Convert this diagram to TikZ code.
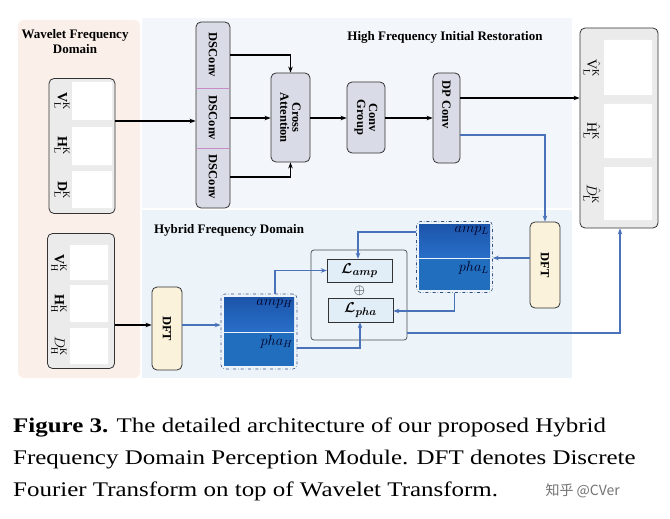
\documentclass[tikz,border=0pt]{standalone}
\usepackage{amsmath,bm}
\usepackage{fontspec}
\setmainfont{Liberation Serif}
\newfontfamily\capf{Liberation Serif}[FakeStretch=1.2]
\newfontfamily\cjk{Noto Sans CJK SC}
\usetikzlibrary{arrows.meta}
\definecolor{blu}{HTML}{4A72B8}
\definecolor{boxg}{HTML}{D9DCE6}
\definecolor{cream}{HTML}{FBF2DC}
\definecolor{peach}{HTML}{FBEFEA}
\definecolor{hfbg}{HTML}{F3F6FA}
\definecolor{hybg}{HTML}{ECF4FA}
\definecolor{sdark}{HTML}{1C55AA}
\definecolor{slight}{HTML}{286EC8}
\definecolor{sph}{HTML}{226EBE}
\definecolor{lossf}{HTML}{E2EEF7}
\begin{document}
\begin{tikzpicture}[x=1pt,y=-1pt,
 blk/.style={draw=black!80,line width=0.8pt,rounded corners=5pt,fill=boxg},
 ar/.style={-{Stealth[length=6pt]},line width=1.1pt,black},
 ba/.style={-{Stealth[length=6pt]},line width=1.1pt,blu},
 lab/.style={font=\bfseries\fontsize{12.5}{12}\selectfont,rotate=-90,align=center},
 wl/.style={rotate=-90,font=\bfseries\fontsize{14}{14}\selectfont},
 ttl/.style={font=\bfseries\fontsize{13}{15}\selectfont,align=center},
 spl/.style={anchor=north east,text=blue!15!black,inner sep=2pt},
 spec/.style={draw=blu!70!black,dash dot,line width=0.6pt,rounded corners=4pt}]
\useasboundingbox (0,0) rectangle (670,519);
\fill[white] (0,0) rectangle (670,519);
% panels
\fill[peach,rounded corners=6pt] (18,20) rectangle (140,378);
\fill[hfbg] (142,18) rectangle (572,208);
\fill[hybg] (142,210) rectangle (572,378);
\node[ttl] (wfd) at (75,42) {Wavelet Frequency\\Domain};
\node[ttl] (hfir) at (445,37) {High Frequency Initial Restoration};
\node[ttl] (hfd) at (229,230) {Hybrid Frequency Domain};
% left boxes
\node[blk,fill=black!8,minimum width=66pt,minimum height=135pt] (L1) at (82,146) {};
\fill[white] (72,82) rectangle (112,120) (72,127) rectangle (112,165) (72,171) rectangle (112,208);
\node[wl] (v1) at (62,101) {V$_\mathrm{L}^\mathrm{K}$};
\node[wl] (h1) at (62,146) {H$_\mathrm{L}^\mathrm{K}$};
\node[wl] (d1) at (62,190) {D$_\mathrm{L}^\mathrm{K}$};
\node[blk,fill=black!8,minimum width=67pt,minimum height=135pt] (L2) at (81,301) {};
\fill[white] (70,245) rectangle (108,280) (70,285) rectangle (108,322) (70,328) rectangle (108,364);
\node[wl] (v2) at (59,263) {V$_\mathrm{H}^\mathrm{K}$};
\node[wl] (h2) at (59,304) {H$_\mathrm{H}^\mathrm{K}$};
\node[wl] (d2) at (59,346) {$D_\mathrm{H}^\mathrm{K}$};
% right box
\node[blk,fill=black!8,minimum width=78pt,minimum height=200pt] (R) at (619,128) {};
\fill[white] (604,40) rectangle (652,95) (604,104) rectangle (652,158) (604,167) rectangle (652,220);
\node[wl] (v3) at (592,68) {$\hat{\mathrm{V}}_\mathrm{L}^\mathrm{K}$};
\node[wl] (h3) at (592,131) {$\hat{\mathrm{H}}_\mathrm{L}^\mathrm{K}$};
\node[wl] (d3) at (592,194) {$\hat{D}_\mathrm{L}^\mathrm{K}$};
% DSConv
\node[blk,minimum width=34pt,minimum height=186pt] (ds) at (213,115) {};
\draw[violet!45,line width=0.8pt] (196,88) -- (230,88) (196,148) -- (230,148);
\node[lab] (ds1) at (213,55) {DSConv};
\node[lab] (ds2) at (213,118) {DSConv};
\node[lab] (ds3) at (213,177) {DSConv};
\node[blk,minimum width=39pt,minimum height=89pt] (ca) at (290.5,117.5) {};
\node[lab] (cat) at (290.5,117.5) {Cross\\Attention};
\node[blk,minimum width=38pt,minimum height=71pt] (cg) at (366,117.5) {};
\node[lab] (cgt) at (366,117.5) {Conv\\Group};
\node[blk,minimum width=27pt,minimum height=90pt] (dp) at (446.5,118) {};
\node[lab] (dpt) at (446.5,105) {DP Conv};
% DFTs
\node[blk,fill=cream,minimum width=30pt,minimum height=86pt] (dftR) at (545,265) {};
\node[lab] (dftRt) at (545,265) {DFT};
\node[blk,fill=cream,minimum width=30pt,minimum height=83pt] (dftL) at (167,328.5) {};
\node[lab] (dftLt) at (167,328.5) {DFT};
% spectra
\fill[top color=sdark,bottom color=slight] (224,297) rectangle (294,331);
\fill[sph] (224,333) rectangle (294,366);
\node[spec,minimum width=76pt,minimum height=75pt] (H) at (259,331.5) {};
\node[spl] (aH) at (295,297) {\fontsize{14}{14}\selectfont$amp_H$};
\node[spl] (pH) at (295,333) {\fontsize{14}{14}\selectfont$pha_H$};
\fill[top color=sdark,bottom color=slight] (419,224) rectangle (490,257);
\fill[sph] (419,259) rectangle (490,290);
\node[spec,minimum width=76pt,minimum height=71pt] (Ls) at (454.5,257) {};
\node[spl] (aL) at (491,224) {\fontsize{14}{14}\selectfont$amp_L$};
\node[spl] (pL) at (491,259) {\fontsize{14}{14}\selectfont$pha_L$};
% loss box
\node[draw=black!70,line width=0.7pt,rounded corners=3pt,minimum width=96pt,minimum height=90pt] (lb) at (359,295) {};
\node[draw=black!80,fill=lossf,minimum width=65pt,minimum height=23pt,inner sep=0pt] (la) at (359.5,270.5) {\fontsize{15}{15}\selectfont$\bm{\mathcal{L}_{amp}}$};
\node (op) at (359.5,291) {\fontsize{14}{14}\selectfont$\oplus$};
\node[draw=black!80,fill=lossf,minimum width=65pt,minimum height=24pt,inner sep=0pt] (lp) at (360.5,310) {\fontsize{15}{15}\selectfont$\bm{\mathcal{L}_{pha}}$};
% black arrows
\draw[ar] (L1.east |- 0,121) -- (ds.west |- 0,121);
\draw[ar] (ds.east |- 0,55) -| (ca.north);
\draw[ar] (ds.east |- 0,118) -- (ca.west |- 0,118);
\draw[ar] (ds.east |- 0,177) -| (ca.south);
\draw[ar] (ca.east |- 0,118) -- (cg.west |- 0,118);
\draw[ar] (cg.east |- 0,118) -- (dp.west |- 0,118);
\draw[ar] (dp.east |- 0,98) -- (R.west |- 0,98);
\draw[ar] (L2.east |- 0,325) -- (dftL.west |- 0,325);
% blue arrows
\draw[ba] (dp.east |- 0,135) -| (dftR.north);
\draw[ba] (dftR.west |- 0,258) -- (Ls.east |- 0,258);
\draw[ba] (Ls.west |- 0,232) -| (la.north -| 358,0);
\draw[ba] (Ls.south) |- (lp.east |- 0,311);
\draw[ba] (dftL.east |- 0,325) -- (H.west |- 0,325);
\draw[ba] (H.north -| 275,0) |- (la.west);
\draw[ba] (H.east |- 0,348) -| (lp.south -| 360,0);
\draw[ba] (lb.east |- 0,333) -| (R.south -| 620,0);
% caption
\node[anchor=west,align=left,font=\capf\fontsize{20.8}{32}\selectfont,inner sep=0pt] (cap) at (13,459)
 {\textbf{Figure 3.} The detailed architecture of our proposed Hybrid\\Frequency Domain Perception Module. DFT denotes Discrete\\Fourier Transform on top of Wavelet Transform.};
\node[anchor=west,font=\cjk\fontsize{14}{14}\selectfont,text=black!55] (wm) at (542,491) {知乎 @CVer};
\end{tikzpicture}
\end{document}
